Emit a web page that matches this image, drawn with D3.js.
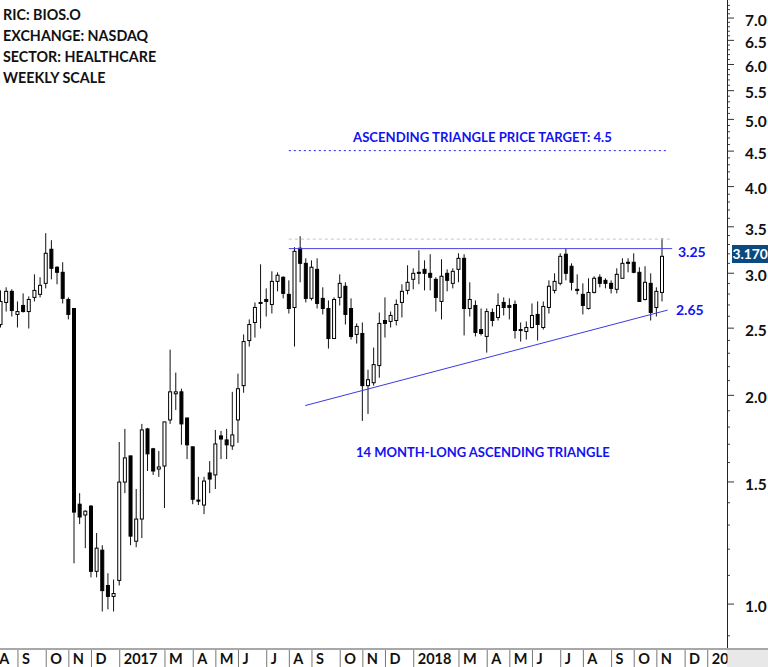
<!DOCTYPE html>
<html>
<head>
<meta charset="utf-8">
<script src="https://cdnjs.cloudflare.com/ajax/libs/d3/7.8.5/d3.min.js"></script>
<style>
html, body { margin: 0; padding: 0; background: #fff; overflow: hidden; }
text { font-family: Lato, "Open Sans", sans-serif; font-weight: 700; }
</style>
</head>
<body>
<script>
var w = 768;
var h = 667;
var axisX = 727;
var axisY = 649;

// weekly prices
var opens = [2.526,2.718,2.820,2.612,2.691,2.637,2.764,2.792,2.896,3.243,3.055,3.004,2.745,2.664,1.391,1.342,1.382,1.113,1.194,1.062,1.024,1.080,1.497,1.633,1.230,1.324,1.786,1.672,1.563,1.579,1.840,2.007,2.020,1.852,1.683,1.410,1.387,1.543,1.533,1.745,1.722,1.688,1.840,2.062,2.395,2.543,2.718,2.745,2.700,2.915,2.955,2.792,2.673,3.254,3.095,2.755,3.034,2.755,2.664,2.411,2.764,2.868,2.664,2.444,2.452,2.062,2.082,2.204,2.560,2.552,2.560,2.718,2.829,2.935,3.004,3.034,2.994,2.935,2.727,2.994,2.896,3.034,3.147,2.664,2.691,2.484,2.428,2.629,2.586,2.718,2.691,2.700,2.484,2.468,2.501,2.612,2.501,2.673,2.829,2.896,3.190,3.065,2.839,2.792,2.664,2.810,2.955,2.925,2.896,2.839,2.945,3.106,3.106,3.004,2.745,2.896,2.673,2.810];
var highs = [2.829,2.858,2.839,2.727,2.801,2.773,2.984,2.955,3.421,3.342,3.065,3.106,2.764,2.664,1.443,1.363,1.387,1.264,1.214,1.106,1.083,1.710,1.786,1.633,1.463,1.816,1.792,1.677,1.660,1.828,2.324,2.153,2.041,1.852,1.683,1.523,1.523,1.605,1.780,1.774,1.786,2.020,2.146,2.444,2.569,2.718,3.085,2.848,3.014,3.004,2.965,2.925,3.265,3.387,3.147,3.126,3.147,2.858,2.736,2.764,2.984,2.906,2.755,2.535,2.543,2.174,2.340,2.629,2.764,2.637,2.745,2.887,3.075,3.044,3.232,3.126,3.190,2.955,3.137,3.034,3.044,3.200,3.190,2.906,2.736,2.664,2.664,2.664,2.801,2.764,2.755,2.736,2.543,2.552,2.709,2.727,2.727,2.925,2.994,3.200,3.254,3.095,2.984,2.896,2.945,2.965,2.984,2.945,2.925,3.044,3.147,3.147,3.200,3.055,3.065,2.994,2.858,3.364];
var lows = [2.501,2.637,2.594,2.501,2.629,2.493,2.727,2.764,2.848,2.935,2.887,2.709,2.569,1.143,1.302,1.202,1.091,1.091,0.974,0.981,0.974,1.062,1.443,1.214,1.206,1.243,1.553,1.533,1.523,1.373,1.816,1.902,1.694,1.616,1.391,1.387,1.346,1.443,1.463,1.616,1.616,1.666,1.705,2.014,2.348,2.419,2.493,2.594,2.620,2.820,2.755,2.620,2.348,2.906,2.718,2.736,2.664,2.612,2.332,2.411,2.691,2.526,2.403,2.371,1.834,1.877,2.062,2.117,2.419,2.501,2.518,2.586,2.792,2.839,2.887,2.829,2.829,2.637,2.569,2.820,2.848,2.906,2.436,2.594,2.428,2.436,2.301,2.510,2.560,2.603,2.569,2.411,2.387,2.403,2.493,2.395,2.484,2.620,2.801,2.877,2.925,2.829,2.792,2.612,2.655,2.801,2.858,2.848,2.801,2.801,2.945,3.004,2.994,2.727,2.736,2.560,2.594,2.727];
var closes = [2.727,2.820,2.646,2.637,2.637,2.745,2.829,2.877,3.200,3.044,3.004,2.755,2.612,1.355,1.333,1.359,1.113,1.202,1.044,1.024,1.034,1.497,1.622,1.251,1.324,1.780,1.644,1.553,1.574,1.828,2.020,2.020,1.816,1.694,1.414,1.405,1.502,1.512,1.699,1.727,1.694,1.751,2.041,2.387,2.526,2.673,2.709,2.727,2.915,2.975,2.801,2.664,3.221,3.095,2.755,3.055,2.709,2.664,2.411,2.745,2.896,2.612,2.428,2.510,2.062,2.103,2.211,2.535,2.535,2.603,2.700,2.820,2.906,2.994,2.994,2.994,2.955,2.764,2.965,2.925,3.014,3.147,2.664,2.745,2.460,2.452,2.637,2.560,2.691,2.673,2.673,2.476,2.476,2.501,2.603,2.526,2.682,2.868,2.915,3.168,2.994,2.906,2.829,2.691,2.810,2.945,2.896,2.896,2.848,2.984,3.095,3.095,3.004,2.727,2.906,2.629,2.820,3.168];

var priceMajor = [1.0,1.5,2.0,2.5,3.0,3.5,4.0,4.5,5.0,5.5,6.0,6.5,7.0];
var priceMinor = [0.9,1.1,1.2,1.3,1.4,1.6,1.7,1.8,1.9,2.1,2.2,2.3,2.4,2.6,2.7,2.8,2.9,3.1,3.2,3.3,3.4,3.6,3.7,3.8,3.9,4.1,4.2,4.3,4.4,4.6,4.7,4.8,4.9,5.1,5.2,5.3,5.4,5.6,5.7,5.8,5.9,6.1,6.2,6.3,6.4,6.6,6.7,6.8,6.9,7.1,7.2,7.3];

var monthWeeks = [-1,3,8,12,16,21,29,34,38,42,47,51,55,60,64,68,73,81,86,90,94,99,103,108,112,116,121,125];
var monthLabels = ["A","S","O","N","D","2017","M","A","M","J","J","A","S","O","N","D","2018","M","A","M","J","J","A","S","O","N","D","2019"];

var infoLines = ["RIC: BIOS.O","EXCHANGE: NASDAQ","SECTOR: HEALTHCARE","WEEKLY SCALE"];
var lastPrice = "3.170";
var resistance = 3.25;
var target = 4.5;
var topDots = 3.354;
var trendStart = [53.9, 1.93];
var trendEnd = [118, 2.65];

var x = d3.scaleLinear().domain([0, 117]).range([0.5, 662]);
var y = d3.scaleLog().domain([7.42, 0.86]).range([0, axisY]);

var svg = d3.select("body").append("svg").attr("width", w).attr("height", h).style("display", "block");

var defs = svg.append("defs");
defs.append("clipPath").attr("id", "dateEnd")
    .append("rect").attr("x", -10).attr("y", 0).attr("width", axisX - x(125) + 10).attr("height", h - axisY);

// grey corner under the price axis
svg.append("rect").attr("x", axisX).attr("y", axisY).attr("width", w - axisX).attr("height", h - axisY).style("fill", "#e8e8e8");

// candles
var candles = svg.selectAll("g.candle")
    .data(d3.range(opens.length))
    .enter()
    .append("g")
    .attr("class", "candle");

candles.append("line")
    .attr("x1", function (i) { return x(i); })
    .attr("x2", function (i) { return x(i); })
    .attr("y1", function (i) { return y(highs[i]); })
    .attr("y2", function (i) { return y(lows[i]); })
    .style("stroke", "#111")
    .style("stroke-width", 1);

candles.append("rect")
    .attr("x", function (i) { return x(i) - 1.5; })
    .attr("width", 3)
    .attr("y", function (i) { return y(Math.max(opens[i], closes[i])); })
    .attr("height", function (i) { return Math.max(1, Math.abs(y(opens[i]) - y(closes[i]))); })
    .style("fill", function (i) { return closes[i] >= opens[i] ? "#fff" : "#000"; })
    .style("stroke", "#000")
    .style("stroke-width", 1);

// annotation lines
svg.append("line").attr("x1", x(51)).attr("x2", x(118.8)).attr("y1", y(topDots)).attr("y2", y(topDots))
    .style("stroke", "#c4c4c4").style("stroke-dasharray", "3,3");
svg.append("line").attr("x1", x(51)).attr("x2", x(118.8)).attr("y1", y(resistance)).attr("y2", y(resistance))
    .style("stroke", "#4545dd").style("stroke-width", 1);
svg.append("line").attr("x1", x(51)).attr("x2", x(118.1)).attr("y1", y(target)).attr("y2", y(target))
    .style("stroke", "#2020ee").style("stroke-dasharray", "2,3");
svg.append("line").attr("x1", x(trendStart[0])).attr("x2", x(trendEnd[0])).attr("y1", y(trendStart[1])).attr("y2", y(trendEnd[1]))
    .style("stroke", "#3a3ae0").style("stroke-width", 1);

// price axis
var minorAxis = d3.axisRight(y).tickValues(priceMinor).tickSize(3).tickFormat("");
var majorAxis = d3.axisRight(y).tickValues(priceMajor).tickSize(7).tickPadding(11).tickFormat(d3.format(".1f"));

var gMinor = svg.append("g").attr("transform", "translate(" + axisX + ",0)").call(minorAxis);
gMinor.select(".domain").remove();
gMinor.selectAll("line").style("stroke", "#444");

var gMajor = svg.append("g").attr("transform", "translate(" + axisX + ",0)").call(majorAxis);
gMajor.select(".domain").remove();
gMajor.selectAll("line").style("stroke", "#333");
gMajor.selectAll("text").style("font-size", "15.5px").style("font-family", "Lato").style("font-weight", 700).style("fill", "#111").attr("dy", "0.5em");

svg.append("line").attr("x1", axisX + 0.5).attr("x2", axisX + 0.5).attr("y1", 0).attr("y2", axisY)
    .style("stroke", "#222").style("stroke-width", 1);

// date axis
var dateAxis = d3.axisBottom(x).tickValues(monthWeeks).tickSize(h - axisY).tickFormat(function (d, i) { return monthLabels[i]; });
var gDate = svg.append("g").attr("transform", "translate(0," + axisY + ")").call(dateAxis);
gDate.select(".domain").remove();
gDate.selectAll("line").style("stroke", "#777");
gDate.selectAll("text")
    .attr("text-anchor", "start")
    .attr("x", 4)
    .attr("y", 5)
    .attr("dy", "0.71em")
    .style("font-size", "14.5px")
    .style("font-family", "Lato")
    .style("font-weight", 700)
    .style("fill", "#111");
gDate.selectAll(".tick").filter(function (d) { return d > 120; }).attr("clip-path", "url(#dateEnd)");

svg.append("line").attr("x1", 0).attr("x2", w).attr("y1", axisY).attr("y2", axisY)
    .style("stroke", "#a8a8a8").style("stroke-width", 2);

// last price tag
svg.append("rect").attr("x", 732).attr("y", 245).attr("width", 36).attr("height", 18).style("fill", "#0b4a80");
svg.append("text").attr("x", 732.5).attr("y", 259).text(lastPrice).style("fill", "#fff").style("font-size", "13.8px");

// notes
svg.selectAll("text.info")
    .data(infoLines)
    .enter()
    .append("text")
    .attr("class", "info")
    .attr("x", 3)
    .attr("y", function (d, i) { return 20 + i * 21; })
    .text(function (d) { return d; })
    .style("fill", "#111")
    .style("font-size", "14.3px");

var blue = "#1212f0";
svg.append("text").attr("x", 353).attr("y", 142).text("ASCENDING TRIANGLE PRICE TARGET: " + target).style("fill", blue).style("font-size", "13.15px");
svg.append("text").attr("x", 356).attr("y", 457).text("14 MONTH-LONG ASCENDING TRIANGLE").style("fill", blue).style("font-size", "13px");
svg.append("text").attr("x", 678).attr("y", 257).text(resistance.toFixed(2)).style("fill", blue).style("font-size", "14px");
svg.append("text").attr("x", 676).attr("y", 315).text(trendEnd[1].toFixed(2)).style("fill", blue).style("font-size", "14px");
</script>
</body>
</html>
